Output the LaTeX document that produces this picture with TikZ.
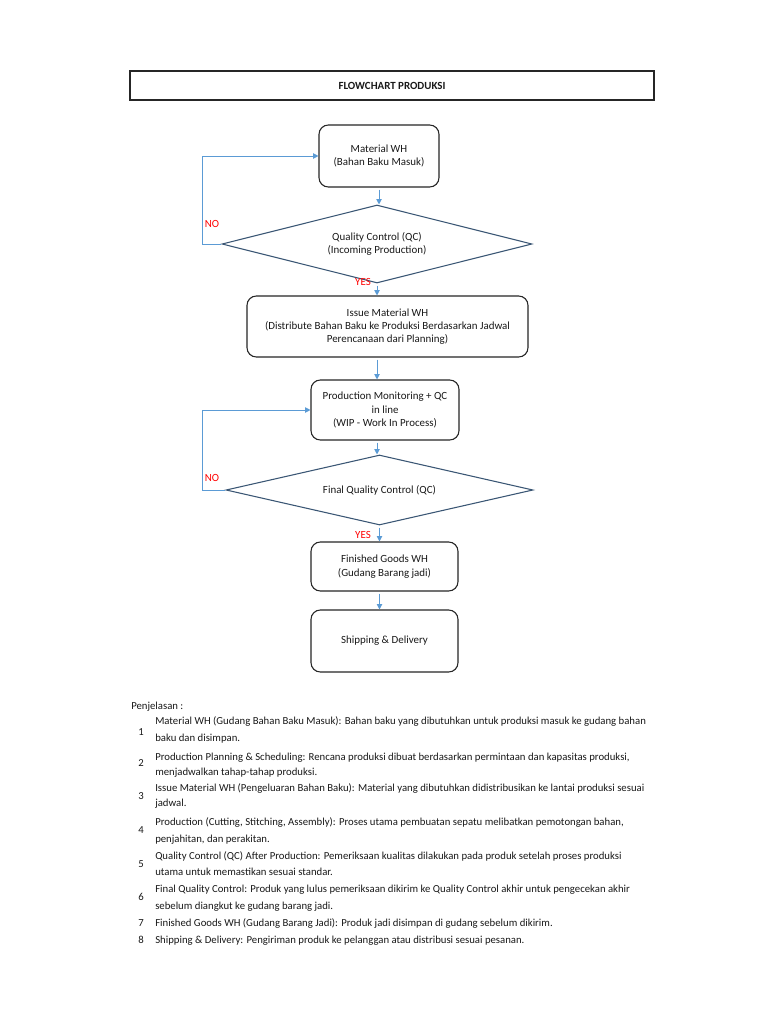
\documentclass[tikz,border=0pt]{standalone}
\usepackage{fontspec}
\setmainfont{Carlito}
\usetikzlibrary{shapes.geometric,arrows.meta}
\definecolor{arrblue}{HTML}{5B9BD5}
\definecolor{diaedge}{HTML}{3A5674}
\definecolor{nored}{HTML}{FF0000}
\begin{document}
\begin{tikzpicture}[x=0.75pt,y=-0.75pt,
  every node/.style={font=\fontsize{8.2}{10}\selectfont, text=black!90},
  procbox/.style={draw=black!85, line width=0.8pt, rounded corners=7pt, align=center, inner sep=2pt},
  decision/.style={diamond, draw=diaedge, line width=0.8pt, align=center, inner sep=0pt, aspect=4},
  arr/.style={draw=arrblue, line width=0.75pt, -{Triangle[width=4pt,length=4pt]}, shorten <=1.5pt},
  yesno/.style={text=nored, font=\fontsize{8.2}{10}\selectfont},
  expl/.style={anchor=mid west, inner sep=0pt, font=\fontsize{8.05}{10}\selectfont},
  num/.style={anchor=mid, inner sep=0pt, font=\fontsize{8.05}{10}\selectfont}]
\useasboundingbox[fill=white] (0,0) rectangle (768,1024);

% title
\node[draw=black!85, line width=0.8pt, minimum width=393pt, minimum height=21.75pt, font=\fontsize{8.2}{10}\selectfont\bfseries] (title) at (392,85.5) {FLOWCHART PRODUKSI};

% flow nodes
\node[procbox, minimum width=90pt, minimum height=46.5pt] (mat) at (379,156) {Material WH\\(Bahan Baku Masuk)};
\node[decision, minimum width=232.5pt, minimum height=58.5pt] (d1) at (377,244) {Quality Control (QC)\\(Incoming Production)};
\node[procbox, minimum width=210.75pt, minimum height=45.75pt] (issue) at (387.5,326.5) {Issue Material WH\\(Distribute Bahan Baku ke Produksi Berdasarkan Jadwal\\Perencanaan dari Planning)};
\node[procbox, minimum width=111pt, minimum height=45pt] (prod) at (385,410) {Production Monitoring + QC\\in line\\(WIP - Work In Process)};
\node[decision, minimum width=230.25pt, minimum height=52.5pt] (d2) at (379.5,490) {Final Quality Control (QC)};
\node[procbox, minimum width=110.25pt, minimum height=36.75pt] (fg) at (384.5,566.5) {Finished Goods WH\\(Gudang Barang jadi)};
\node[procbox, minimum width=110.25pt, minimum height=46.5pt] (ship) at (384.5,641) {Shipping \& Delivery};

% connectors
\draw[arr] (mat.south) -- (mat.south |- d1.north);
\draw[arr] (d1.south) -- (d1.south |- issue.north);
\draw[arr] (d1.south |- issue.south) -- (d1.south |- prod.north);
\draw[arr] (d1.south |- prod.south) -- (d1.south |- d2.north);
\draw[arr] (d2.south) -- (d2.south |- fg.north);
\draw[arr] (d2.south |- fg.south) -- (d2.south |- ship.north);
\draw[arr, shorten <=0pt] (d1.west) -- ++(-19,0) |- (mat.west);
\draw[arr, shorten <=0pt] (d2.west) -- ++(-23,0) |- (prod.west);

% labels
\node[yesno] (no1) at (212,224) {NO};
\node[yesno] (yes1) at (363,282) {YES};
\node[yesno] (no2) at (212,478) {NO};
\node[yesno] (yes2) at (363,535) {YES};

% explanation
\node[expl] (pj) at (131,706) {Penjelasan :};
\node[num] (n1) at (141,732) {1};
\node[expl] (e1a) at (155,721) {Material WH (Gudang Bahan Baku Masuk): Bahan baku yang dibutuhkan untuk produksi masuk ke gudang bahan};
\node[expl] (e1b) at (155,738) {baku dan disimpan.};
\node[num] (n2) at (141,763) {2};
\node[expl] (e2a) at (155,757) {Production Planning \& Scheduling: Rencana produksi dibuat berdasarkan permintaan dan kapasitas produksi,};
\node[expl] (e2b) at (155,772) {menjadwalkan tahap-tahap produksi.};
\node[num] (n3) at (141,796) {3};
\node[expl] (e3a) at (155,788) {Issue Material WH (Pengeluaran Bahan Baku): Material yang dibutuhkan didistribusikan ke lantai produksi sesuai};
\node[expl] (e3b) at (155,803) {jadwal.};
\node[num] (n4) at (141,830) {4};
\node[expl] (e4a) at (155,822) {Production (Cutting, Stitching, Assembly): Proses utama pembuatan sepatu melibatkan pemotongan bahan,};
\node[expl] (e4b) at (155,839) {penjahitan, dan perakitan.};
\node[num] (n5) at (141,864) {5};
\node[expl] (e5a) at (155,856) {Quality Control (QC) After Production: Pemeriksaan kualitas dilakukan pada produk setelah proses produksi};
\node[expl] (e5b) at (155,872) {utama untuk memastikan sesuai standar.};
\node[num] (n6) at (141,897) {6};
\node[expl] (e6a) at (155,889) {Final Quality Control: Produk yang lulus pemeriksaan dikirim ke Quality Control akhir untuk pengecekan akhir};
\node[expl] (e6b) at (155,906) {sebelum diangkut ke gudang barang jadi.};
\node[num] (n7) at (141,923) {7};
\node[expl] (e7) at (155,923) {Finished Goods WH (Gudang Barang Jadi): Produk jadi disimpan di gudang sebelum dikirim.};
\node[num] (n8) at (141,940) {8};
\node[expl] (e8) at (155,940) {Shipping \& Delivery: Pengiriman produk ke pelanggan atau distribusi sesuai pesanan.};
\end{tikzpicture}
\end{document}
